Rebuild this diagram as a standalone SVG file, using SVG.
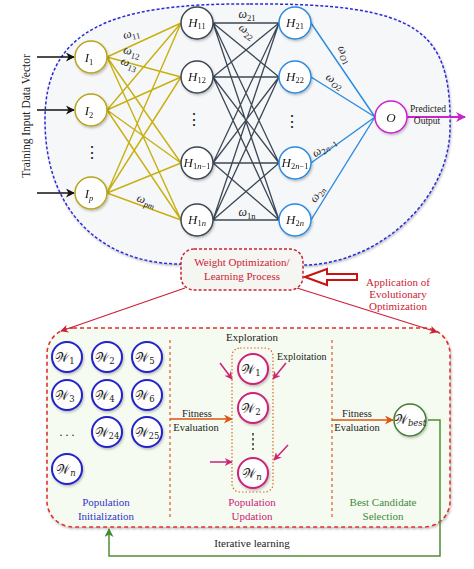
<svg xmlns="http://www.w3.org/2000/svg" width="474" height="569" viewBox="0 0 474 569">
<defs>
<style>
text{font-family:"Liberation Serif","DejaVu Serif",serif;fill:#222}
.m{font-style:italic;font-size:13px;text-anchor:middle}
.s{font-size:8.5px;font-style:normal}
.si{font-size:8.5px;font-style:italic}
.w{font-style:italic;font-size:12px;text-anchor:middle}
.cw{font-family:"DejaVu Serif","Liberation Serif",serif;font-size:13px;text-anchor:middle}
.ni{fill:#fff;stroke:#b8a41c;stroke-width:1.5}
.nh1{fill:#fff;stroke:#3c4652;stroke-width:1.5}
.nh2{fill:#fff;stroke:#2b8ae0;stroke-width:1.5}
.no{fill:#fff;stroke:#cc22cc;stroke-width:1.5}
.nb{fill:#fff;stroke:#2222cc;stroke-width:2}
.np{fill:#fff;stroke:#cc2277;stroke-width:2}
.ng{fill:#fff;stroke:#3f7f2f;stroke-width:1.5}
.lbl{font-size:11px;text-anchor:middle}
.red{fill:#cc2233}
.blu{fill:#3333cc}
.mag{fill:#cc2277}
.grn{fill:#3f8a3a}
</style>
<filter id="sh" x="-20%" y="-20%" width="140%" height="140%"><feDropShadow dx="1" dy="1.5" stdDeviation="1" flood-color="#000" flood-opacity="0.25"/></filter>
<marker id="ak" viewBox="0 0 10 10" refX="9" refY="5" markerWidth="11" markerHeight="9" markerUnits="userSpaceOnUse" orient="auto"><path d="M0,0 L10,5 L0,10 L3,5 Z" fill="#111"/></marker>
<marker id="am" viewBox="0 0 10 10" refX="9" refY="5" markerWidth="12" markerHeight="10" markerUnits="userSpaceOnUse" orient="auto"><path d="M0,0 L10,5 L0,10 L3,5 Z" fill="#cc22cc"/></marker>
<marker id="ar" viewBox="0 0 10 10" refX="9" refY="5" markerWidth="10" markerHeight="8" markerUnits="userSpaceOnUse" orient="auto"><path d="M0,0 L10,5 L0,10 L3,5 Z" fill="#cc2233"/></marker>
<marker id="ao" viewBox="0 0 10 10" refX="9" refY="5" markerWidth="10" markerHeight="9" markerUnits="userSpaceOnUse" orient="auto"><path d="M0,0 L10,5 L0,10 L3,5 Z" fill="#dd5511"/></marker>
<marker id="ap" viewBox="0 0 10 10" refX="9" refY="5" markerWidth="9" markerHeight="8" markerUnits="userSpaceOnUse" orient="auto"><path d="M0,0 L10,5 L0,10 L3,5 Z" fill="#cc2277"/></marker>
<marker id="ag" viewBox="0 0 10 10" refX="9" refY="5" markerWidth="10" markerHeight="9" markerUnits="userSpaceOnUse" orient="auto"><path d="M0,0 L10,5 L0,10 L3,5 Z" fill="#3f8a2f"/></marker>
</defs>
<rect width="474" height="569" fill="#fff"/>

<!-- top network container -->
<path id="netbox" d="M250,4 C420,3 452,30 450,130 C448,200 380,262 307,265 C270,266 210,266 177,264 C100,262 45,210 45,120 C45,30 110,3 250,4 Z" fill="#f6f7f9" stroke="#2b2bd6" stroke-width="1.5" stroke-dasharray="3,2" filter="url(#sh)"/>

<!-- bottom container -->
<rect id="evobox" x="47" y="328" width="403" height="199" rx="26" fill="#f6fbf1" stroke="#dd3333" stroke-width="1.6" stroke-dasharray="4,3" filter="url(#sh)"/>
<g id="dividers" stroke="#dd5522" stroke-width="1.2" stroke-dasharray="3,3">
<line x1="170" y1="340" x2="170" y2="518"/>
<line x1="332" y1="340" x2="332" y2="518"/>
</g>

<g id="connectors" fill="none">
<path stroke="#c8b010" stroke-width="1.4" d="M107,57 L181,23 M107,57 L181,77 M107,57 L181,163 M107,57 L181,220 M107,110 L181,23 M107,110 L181,77 M107,110 L181,163 M107,110 L181,220 M107,193 L181,23 M107,193 L181,77 M107,193 L181,163 M107,193 L181,220"/>
<path stroke="#3d4957" stroke-width="1.3" d="M213,23 L279,23 M213,23 L279,77 M213,23 L279,163 M213,23 L279,220 M213,77 L279,23 M213,77 L279,77 M213,77 L279,163 M213,77 L279,220 M213,163 L279,23 M213,163 L279,77 M213,163 L279,163 M213,163 L279,220 M213,220 L279,23 M213,220 L279,77 M213,220 L279,163 M213,220 L279,220"/>
<path stroke="#2b8ae0" stroke-width="1.4" d="M311,23 L375,117 M311,77 L375,117 M311,163 L375,117 M311,220 L375,117"/>
<g stroke="#111" stroke-width="1.5">
<line x1="37" y1="57" x2="74" y2="57" marker-end="url(#ak)"/>
<line x1="37" y1="110" x2="74" y2="110" marker-end="url(#ak)"/>
<line x1="37" y1="193" x2="74" y2="193" marker-end="url(#ak)"/>
</g>
<line x1="407" y1="117" x2="465" y2="117" stroke="#cc22cc" stroke-width="1.8" marker-end="url(#am)"/>
<g stroke="#cc2233" stroke-width="1.3">
<line x1="185" y1="288" x2="61" y2="331" marker-end="url(#ar)"/>
<line x1="297" y1="288" x2="437" y2="332" marker-end="url(#ar)"/>
</g>
<polygon points="305,277 327,269 327,274 357,274 357,280 327,280 327,285" fill="#fff" stroke="#cc1111" stroke-width="2"/>
<g stroke="#dd5511" stroke-width="1.6">
<line x1="170" y1="419" x2="232" y2="419" marker-end="url(#ao)"/>
<line x1="332" y1="420" x2="393" y2="420" marker-end="url(#ao)"/>
</g>
<g stroke="#cc2277" stroke-width="1.5">
<line x1="220" y1="363" x2="232" y2="379" marker-end="url(#ap)"/>
<line x1="286" y1="363" x2="273" y2="379" marker-end="url(#ap)"/>
<line x1="210" y1="462" x2="232" y2="462" marker-end="url(#ap)"/>
<line x1="288" y1="445" x2="274" y2="460" marker-end="url(#ap)"/>
</g>
<polyline points="428,420 440,420 440,556 109,556 109,529" fill="none" stroke="#4f8f33" stroke-width="1.5" marker-end="url(#ag)"/>
</g>

<text x="30" y="116" font-size="11.5" text-anchor="middle" transform="rotate(-90 30 116)" fill="#333">Training Input Data Vector</text>

<!-- weight labels -->
<g id="weights">
<text class="w" x="132" y="37" transform="rotate(-14 132 37)">ω<tspan class="s" dy="3">11</tspan></text>
<text class="w" x="131" y="55" transform="rotate(14 131 55)">ω<tspan class="s" dy="3">12</tspan></text>
<text class="w" x="128" y="67" transform="rotate(22 128 67)">ω<tspan class="s" dy="3">13</tspan></text>
<text class="w" x="145" y="204" transform="rotate(18 145 204)">ω<tspan class="si" dy="3">pm</tspan></text>
<text class="w" x="247" y="18">ω<tspan class="s" dy="3">21</tspan></text>
<text class="w" x="245" y="34" transform="rotate(35 245 34)">ω<tspan class="s" dy="3">22</tspan></text>
<text class="w" x="247" y="216">ω<tspan class="s" dy="3">1n</tspan></text>
<text class="w" x="342" y="56" transform="rotate(62 342 56)">ω<tspan class="si" dy="3">O</tspan><tspan class="s">1</tspan></text>
<text class="w" x="333" y="84" transform="rotate(33 333 84)">ω<tspan class="si" dy="3">O</tspan><tspan class="s">2</tspan></text>
<text class="w" x="326" y="150" transform="rotate(-35 326 150)">ω<tspan class="s" dy="3">2<tspan class="si">n</tspan>−1</tspan></text>
<text class="w" x="320" y="196" transform="rotate(-58 320 196)">ω<tspan class="s" dy="3">2<tspan class="si">n</tspan></tspan></text>
</g>

<!-- input nodes -->
<g id="I1" filter="url(#sh)"><circle class="ni" cx="91" cy="57" r="16"/><text class="m" x="89" y="62">I<tspan class="s" dy="3">1</tspan></text></g>
<g id="I2" filter="url(#sh)"><circle class="ni" cx="91" cy="110" r="16"/><text class="m" x="89" y="115">I<tspan class="s" dy="3">2</tspan></text></g>
<g id="Ip" filter="url(#sh)"><circle class="ni" cx="91" cy="193" r="16"/><text class="m" x="89" y="198">I<tspan class="si" dy="3">p</tspan></text></g>
<text x="92" y="158" font-size="16" text-anchor="middle" font-family="DejaVu Sans,sans-serif">⋮</text>

<!-- hidden layer 1 -->
<g id="H11" filter="url(#sh)"><circle class="nh1" cx="197" cy="23" r="16"/><text class="m" x="197" y="27">H<tspan class="s" dy="2">11</tspan></text></g>
<g id="H12" filter="url(#sh)"><circle class="nh1" cx="197" cy="77" r="16"/><text class="m" x="197" y="81">H<tspan class="s" dy="2">12</tspan></text></g>
<g id="H1n1" filter="url(#sh)"><circle class="nh1" cx="197" cy="163" r="16"/><text class="m" x="197" y="167" font-size="12">H<tspan class="s" dy="2" font-size="7.5">1<tspan class="si" font-size="7.5">n</tspan>−1</tspan></text></g>
<g id="H1n" filter="url(#sh)"><circle class="nh1" cx="197" cy="220" r="16"/><text class="m" x="197" y="224">H<tspan class="s" dy="2">1<tspan class="si">n</tspan></tspan></text></g>
<text x="194" y="125" font-size="16" text-anchor="middle" font-family="DejaVu Sans,sans-serif">⋮</text>

<!-- hidden layer 2 -->
<g id="H21" filter="url(#sh)"><circle class="nh2" cx="295" cy="23" r="16"/><text class="m" x="295" y="27">H<tspan class="s" dy="2">21</tspan></text></g>
<g id="H22" filter="url(#sh)"><circle class="nh2" cx="295" cy="77" r="16"/><text class="m" x="295" y="81">H<tspan class="s" dy="2">22</tspan></text></g>
<g id="H2n1" filter="url(#sh)"><circle class="nh2" cx="295" cy="163" r="16"/><text class="m" x="295" y="167" font-size="12">H<tspan class="s" dy="2" font-size="7.5">2<tspan class="si" font-size="7.5">n</tspan>−1</tspan></text></g>
<g id="H2n" filter="url(#sh)"><circle class="nh2" cx="295" cy="220" r="16"/><text class="m" x="295" y="224">H<tspan class="s" dy="2">2<tspan class="si">n</tspan></tspan></text></g>
<text x="292" y="127" font-size="16" text-anchor="middle" font-family="DejaVu Sans,sans-serif">⋮</text>

<!-- output -->
<g id="O" filter="url(#sh)"><circle class="no" cx="391" cy="117" r="16"/><text class="m" x="391" y="122">O</text></g>
<text x="428" y="112" font-size="9.5" text-anchor="middle">Predicted</text>
<text x="427" y="124" font-size="9.5" text-anchor="middle">Output</text>

<!-- weight optimization box -->
<g id="wopt">
<rect x="181" y="249" width="122" height="41" rx="13" fill="#f5f5f1" stroke="#cc2233" stroke-width="1.5" stroke-dasharray="3,2"/>
<text class="lbl red" x="242" y="266" font-size="10.5">Weight Optimization/</text>
<text class="lbl red" x="242" y="280" font-size="10.5">Learning Process</text>
</g>
<g id="appl">
<text class="lbl red" x="398" y="286" font-size="10.5">Application of</text>
<text class="lbl red" x="398" y="298" font-size="10.5">Evolutionary</text>
<text class="lbl red" x="398" y="310" font-size="10.5">Optimization</text>
</g>

<!-- population initialization -->
<g id="popinit">
<g filter="url(#sh)">
<circle class="nb" cx="67" cy="357" r="15"/><circle class="nb" cx="107" cy="357" r="15"/><circle class="nb" cx="147" cy="357" r="15"/>
<circle class="nb" cx="67" cy="395" r="15"/><circle class="nb" cx="107" cy="395" r="15"/><circle class="nb" cx="147" cy="395" r="15"/>
<circle class="nb" cx="107" cy="432" r="15"/><circle class="nb" cx="147" cy="432" r="15"/>
<circle class="nb" cx="67" cy="469" r="15"/>
</g>
<text class="cw" x="65" y="362">𝒲<tspan class="s" dy="2">1</tspan></text>
<text class="cw" x="105" y="362">𝒲<tspan class="s" dy="2">2</tspan></text>
<text class="cw" x="145" y="362">𝒲<tspan class="s" dy="2">5</tspan></text>
<text class="cw" x="65" y="400">𝒲<tspan class="s" dy="2">3</tspan></text>
<text class="cw" x="105" y="400">𝒲<tspan class="s" dy="2">4</tspan></text>
<text class="cw" x="145" y="400">𝒲<tspan class="s" dy="2">6</tspan></text>
<text class="cw" x="107" y="437">𝒲<tspan class="s" dy="2">24</tspan></text>
<text class="cw" x="147" y="437">𝒲<tspan class="s" dy="2">25</tspan></text>
<text class="cw" x="66" y="474">𝒲<tspan class="si" dy="2">n</tspan></text>
<text x="67" y="436" font-size="12" text-anchor="middle">. . .</text>
<text class="lbl blu" x="106" y="506" font-size="11">Population</text>
<text class="lbl blu" x="106" y="520" font-size="11">Initialization</text>
</g>

<!-- population updation -->
<g id="popupd">
<text class="lbl" x="252" y="341" font-size="10">Exploration</text>
<text x="277" y="360" font-size="10">Exploitation</text>
<rect x="232" y="348" width="41" height="144" rx="8" fill="none" stroke="#dd6622" stroke-width="1.2" stroke-dasharray="1.5,2"/>
<g filter="url(#sh)">
<circle class="np" cx="253" cy="369" r="15"/><circle class="np" cx="253" cy="408" r="15"/><circle class="np" cx="253" cy="473" r="15"/>
</g>
<text class="cw" x="251" y="374">𝒲<tspan class="s" dy="2">1</tspan></text>
<text class="cw" x="251" y="413">𝒲<tspan class="s" dy="2">2</tspan></text>
<text class="cw" x="252" y="478">𝒲<tspan class="si" dy="2">n</tspan></text>
<line x1="253" y1="433" x2="253" y2="450" stroke="#333" stroke-width="1.5" stroke-dasharray="2.5,2.5"/>
<text x="197" y="417" font-size="10.5" text-anchor="middle">Fitness</text>
<text x="196" y="431" font-size="10.5" text-anchor="middle">Evaluation</text>
<text class="lbl mag" x="252" y="506" font-size="11">Population</text>
<text class="lbl mag" x="252" y="520" font-size="11">Updation</text>
</g>

<!-- best candidate -->
<g id="best">
<text x="357" y="417" font-size="10.5" text-anchor="middle">Fitness</text>
<text x="357" y="431" font-size="10.5" text-anchor="middle">Evaluation</text>
<circle class="ng" cx="410" cy="420" r="16" filter="url(#sh)"/>
<text class="cw" x="410" y="424" font-size="12">𝒲<tspan class="si" dy="2" font-size="8">best</tspan></text>
<text class="lbl grn" x="383" y="506" font-size="11">Best Candidate</text>
<text class="lbl grn" x="383" y="520" font-size="11">Selection</text>
</g>

<text x="252" y="547" font-size="11" text-anchor="middle">Iterative learning</text>
</svg>
